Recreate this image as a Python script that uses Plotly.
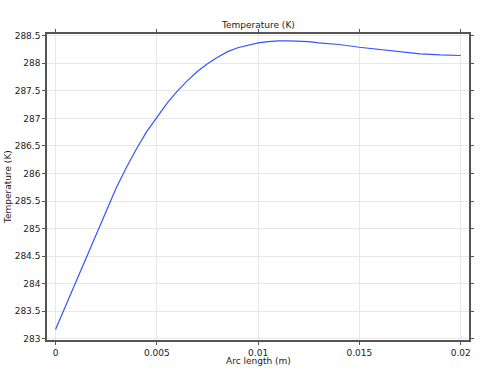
import plotly.graph_objects as go

arc_length = [0, 0.0005, 0.001, 0.0015, 0.002, 0.0025, 0.003, 0.0035, 0.004, 0.0045,
              0.005, 0.0055, 0.006, 0.0065, 0.007, 0.0075, 0.008, 0.0085, 0.009, 0.0095,
              0.01, 0.0105, 0.011, 0.0115, 0.012, 0.0125, 0.013, 0.014, 0.015, 0.016,
              0.017, 0.018, 0.019, 0.02]
temperature = [283.17, 283.60, 284.04, 284.48, 284.91, 285.33, 285.74, 286.11, 286.45, 286.76,
               287.02, 287.27, 287.49, 287.68, 287.85, 287.99, 288.11, 288.21, 288.28, 288.33,
               288.37, 288.39, 288.405, 288.405, 288.40, 288.39, 288.37, 288.34, 288.29, 288.25,
               288.21, 288.17, 288.15, 288.14]

x_ticks = [0, 0.005, 0.01, 0.015, 0.02]
x_tick_labels = ["0", "0.005", "0.01", "0.015", "0.02"]
y_ticks = [283, 283.5, 284, 284.5, 285, 285.5, 286, 286.5, 287, 287.5, 288, 288.5]
y_tick_labels = ["283", "283.5", "284", "284.5", "285", "285.5", "286", "286.5", "287", "287.5", "288", "288.5"]

fig = go.Figure()
fig.add_trace(go.Scatter(x=arc_length, y=temperature, mode="lines",
                         line=dict(color="#3355ff", width=1.2), showlegend=False))

font = dict(family="DejaVu Sans", size=9, color="#222222")
axis_common = dict(showline=True, linecolor="#555555", linewidth=1.5, mirror="ticks",
                   ticks="outside", ticklen=3, tickcolor="#555555", showgrid=True,
                   gridcolor="#e8e8e8", gridwidth=1, zeroline=False, tickfont=font,
                   automargin=False)

fig.update_layout(
    width=483, height=375,
    margin=dict(l=47, r=14, t=34, b=35),
    paper_bgcolor="white", plot_bgcolor="white",
    title=dict(text="Temperature (K)", x=0.535, xanchor="center", y=0.935, yanchor="middle",
               font=dict(family="DejaVu Sans", size=9, color="#222222")),
    xaxis=dict(range=[-0.00042, 0.02041], tickvals=x_ticks, ticktext=x_tick_labels, **axis_common),
    yaxis=dict(range=[282.98, 288.53], tickvals=y_ticks, ticktext=y_tick_labels, **axis_common),
    annotations=[
        dict(text="Arc length (m)", xref="paper", yref="paper", x=0.5, y=0,
             xanchor="center", yanchor="middle", yshift=-21, showarrow=False, font=font),
        dict(text="Temperature (K)", xref="paper", yref="paper", x=0, y=0.5,
             xanchor="center", yanchor="middle", xshift=-39, textangle=-90,
             showarrow=False, font=font),
    ],
)

fig.write_html("out.html")
